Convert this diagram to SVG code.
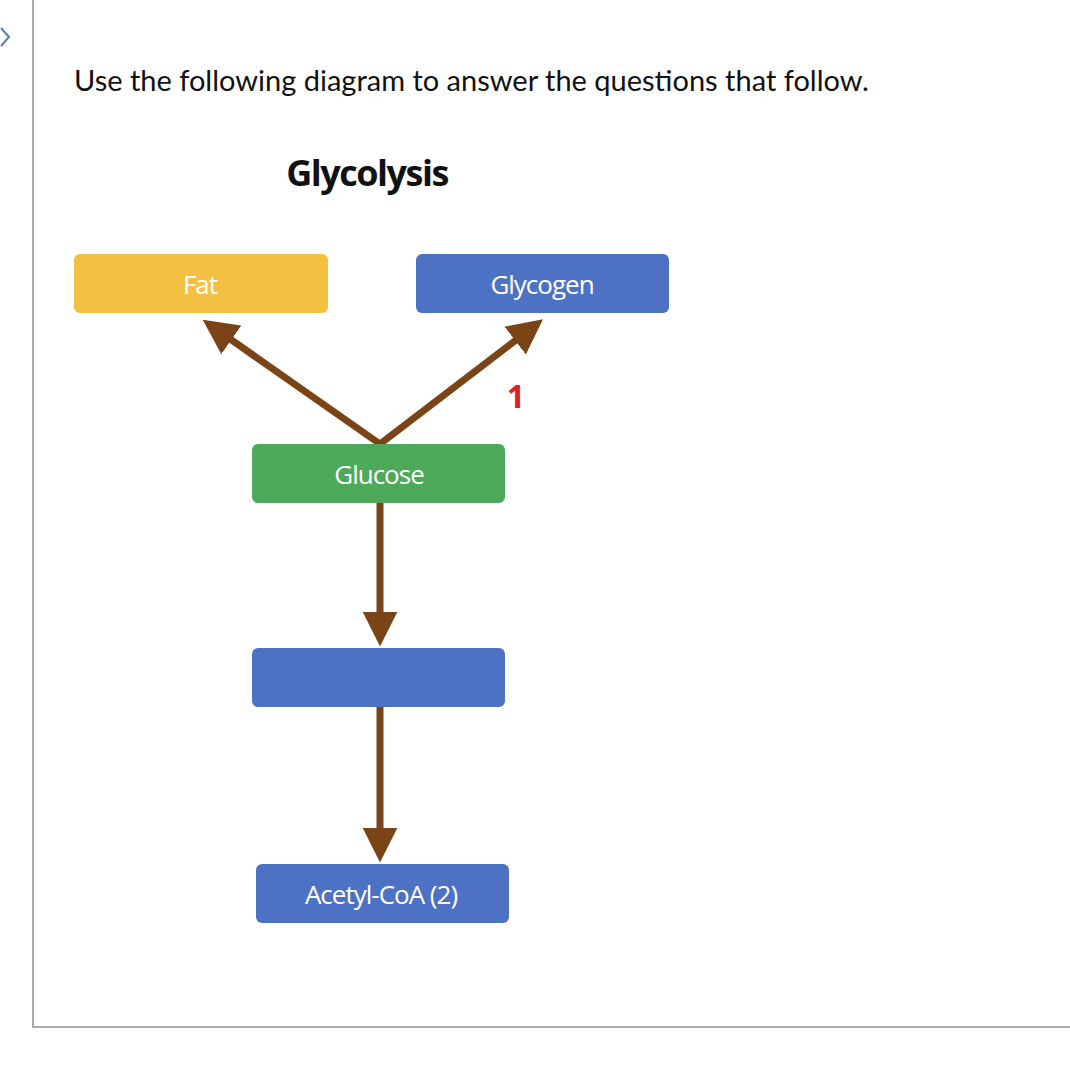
<svg xmlns="http://www.w3.org/2000/svg" width="1070" height="1080" viewBox="0 0 1070 1080">
<style>
.lbl{font-family:"Open Sans","Liberation Sans",sans-serif;font-size:26px;fill:#fff;text-anchor:middle;letter-spacing:-1px}
.conn{stroke:#7b4416;stroke-width:7;fill:none;marker-end:url(#ah)}
</style>
<defs>
<marker id="ah" markerWidth="5" markerHeight="5" refX="3.2" refY="2.5" orient="auto" markerUnits="strokeWidth" viewBox="0 0 5 5">
<path d="M0,0 L5,2.5 L0,5 Z" fill="#7b4416"/>
</marker>
</defs>
<rect width="1070" height="1080" fill="#fff"/>
<path d="M1,28 L9,37 L1,46" stroke="#5a7fa8" stroke-width="2" fill="none"/>
<path d="M33,0 V1027 H1070" stroke="#a9a9a9" stroke-width="2" fill="none"/>
<text x="74" y="91" font-family="Lato,'Liberation Sans',sans-serif" font-size="29" fill="#111">Use the following diagram to answer the questions that follow.</text>
<text x="367" y="186" font-family="'Open Sans','Liberation Sans',sans-serif" font-size="36" font-weight="bold" fill="#111" text-anchor="middle" letter-spacing="-1.5">Glycolysis</text>
<g id="connectors">
<path class="conn" d="M380,444 L213,327"/>
<path class="conn" d="M380,444 L533,327"/>
<path class="conn" d="M380,503 V634"/>
<path class="conn" d="M380,707 V850"/>
</g>
<g id="fat"><rect x="74" y="254" width="254" height="59" rx="6" fill="#f3c142"/><text class="lbl" x="200" y="294">Fat</text></g>
<g id="glycogen"><rect x="416" y="254" width="253" height="59" rx="6" fill="#4e72c3"/><text class="lbl" x="542" y="294">Glycogen</text></g>
<g id="label1"><text x="516" y="408" font-family="'Open Sans','Liberation Sans',sans-serif" font-size="32" font-weight="bold" fill="#e02020" text-anchor="middle">1</text></g>
<g id="glucose"><rect x="252" y="444" width="253" height="59" rx="6" fill="#4caa5a"/><text class="lbl" x="379" y="484">Glucose</text></g>
<g id="blank"><rect x="252" y="648" width="253" height="59" rx="6" fill="#4e72c3"/></g>
<g id="acetyl"><rect x="256" y="864" width="253" height="59" rx="6" fill="#4e72c3"/><text class="lbl" x="381" y="904">Acetyl-CoA (2)</text></g>
</svg>
